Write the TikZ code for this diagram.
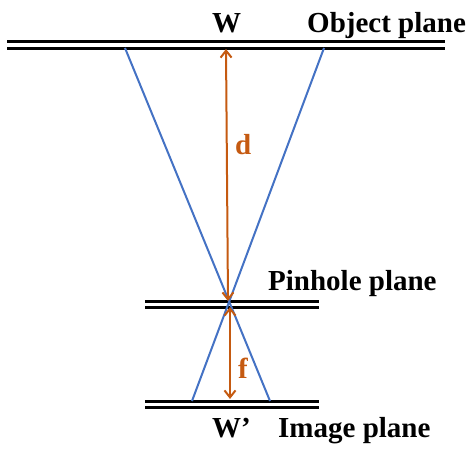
\documentclass[tikz,border=0pt]{standalone}
\usepackage{fontspec}
\setmainfont{Liberation Serif}
\usetikzlibrary{arrows.meta}
\definecolor{rayblue}{RGB}{68,114,196}
\definecolor{distorange}{RGB}{197,90,17}
\tikzset{
    plane/.style={line width=2.8pt,black},
    ray/.style={line width=2pt,rayblue},
    dist/.style={line width=2pt,distorange,{Straight Barb[length=7pt,width=11pt]}-{Straight Barb[length=7pt,width=11pt]}},
    lbl/.style={font=\fontsize{29}{31}\selectfont\bfseries,inner sep=0pt,anchor=base west}
}
\begin{document}
\begin{tikzpicture}[x=1pt,y=-1pt]
    \useasboundingbox (0,0) rectangle (474,451);
    \coordinate (objL) at (7,45);
    \coordinate (objR) at (445,45);
    \coordinate (pinL) at (145,304.5);
    \coordinate (pinR) at (319,304.5);
    \coordinate (imgL) at (145,404.5);
    \coordinate (imgR) at (319,404.5);
    \coordinate (pin) at (230,304);
    \coordinate (rayA) at (125,48);
    \coordinate (rayB) at (324,48);
    \coordinate (rayC) at (192,401);
    \coordinate (rayD) at (270,401);
    \draw[plane] ([yshift=-3.4pt]objL) -- ([yshift=-3.4pt]objR);
    \draw[plane] ([yshift=3.4pt]objL) -- ([yshift=3.4pt]objR);
    \draw[plane] ([yshift=-3.3pt]pinL) -- ([yshift=-3.3pt]pinR);
    \draw[plane] ([yshift=3.3pt]pinL) -- ([yshift=3.3pt]pinR);
    \draw[plane] ([yshift=-3.1pt]imgL) -- ([yshift=-3.1pt]imgR);
    \draw[plane] ([yshift=3.1pt]imgL) -- ([yshift=3.1pt]imgR);
    \draw[ray] (rayA) -- (rayD);
    \draw[ray] (rayB) -- (rayC);
    \coordinate (dTop) at (226,49);
    \coordinate (dBot) at (228,301);
    \coordinate (fTop) at (230,307);
    \coordinate (fBot) at (230,399);
    \draw[dist] (dTop) -- (dBot);
    \draw[dist] (fTop) -- (fBot);
    \node[lbl] (W) at (212,32) {W};
    \node[lbl] (objlabel) at (307,32) {Object plane};
    \node[lbl,distorange] (d) at (235,154) {d};
    \node[lbl] (pinlabel) at (268,290) {Pinhole plane};
    \node[lbl,distorange] (f) at (238,378) {f};
    \node[lbl] (Wp) at (212,437) {W’};
    \node[lbl] (imglabel) at (278,437) {Image plane};
\end{tikzpicture}
\end{document}
